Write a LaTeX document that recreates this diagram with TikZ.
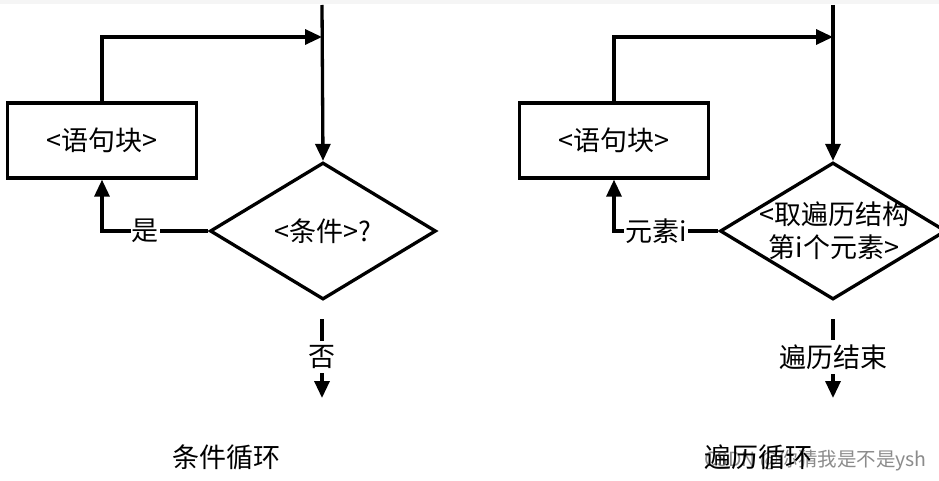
\documentclass[tikz,border=0pt]{standalone}
\usepackage{fontspec}
\setmainfont{Noto Sans CJK SC}
\usetikzlibrary{arrows.meta,shapes.geometric}
\begin{document}
\begin{tikzpicture}[x=1pt,y=-1pt,line width=3.3pt,
  arr/.style={-{Triangle[length=17pt,width=15pt]}},
  lbl/.style={font=\fontsize{27}{33}\selectfont,inner sep=3pt,align=center},
  blk/.style={draw,rectangle,minimum width=189pt,minimum height=75pt,inner sep=0pt,font=\fontsize{27}{33}\selectfont},
  dia/.style={draw,diamond,minimum width=226pt,minimum height=137pt,inner sep=0pt},
  wm/.style={font=\fontsize{19.5}{24}\selectfont,text=black!45,inner sep=0pt}]
\fill[white] (0,0) rectangle (939,481);
\useasboundingbox (0,0) rectangle (939,481);
\fill[black!4] (0,0) rectangle (939,4);
% ---------- left: condition loop ----------
\node[blk] (b1) at (102,140.5) {<语句块>};
\node[dia] (d1) at (323,231) {};
\node[lbl] (t1) at (323,231) {<条件>?};
\coordinate (top1) at (322,5);
\coordinate (m1) at (322,37);
\draw[arr] (top1) -- (d1.north);
\draw[arr] (b1.north) |- (m1);
\draw[arr] (d1.west) -| (b1.south);
\node[lbl,fill=white,inner sep=1pt] (y1) at (145,231) {是};
\coordinate (s1) at (322,319);
\node[lbl] (n1) at (322,357) {否};
\coordinate (e1) at (322,398);
\draw (s1) -- (n1.north);
\draw[arr] (n1.south) -- (e1);
\node[lbl] (T1) at (226,457) {条件循环};
% ---------- right: traversal loop ----------
\node[blk] (b2) at (614,140.5) {<语句块>};
\node[dia] (d2) at (833,231) {};
\node[lbl,inner sep=0pt] (t2) at (834,231) {<取遍历结构\\第i个元素>};
\coordinate (top2) at (833,5);
\coordinate (m2) at (833,37);
\draw[arr] (top2) -- (d2.north);
\draw[arr] (b2.north) |- (m2);
\draw[arr] (d2.west) -| (b2.south);
\node[lbl,fill=white,inner sep=1pt] (y2) at (656,231) {元素i};
\coordinate (s2) at (833,319);
\node[lbl] (n2) at (833,357) {遍历结束};
\coordinate (e2) at (833,398);
\draw (s2) -- (n2.north);
\draw[arr] (n2.south) -- (e2);
\node[wm,anchor=west] (w) at (703,461) {CSDN @你猜我是不是ysh};
\node[lbl] (T2) at (758,457) {遍历循环};
\end{tikzpicture}
\end{document}
